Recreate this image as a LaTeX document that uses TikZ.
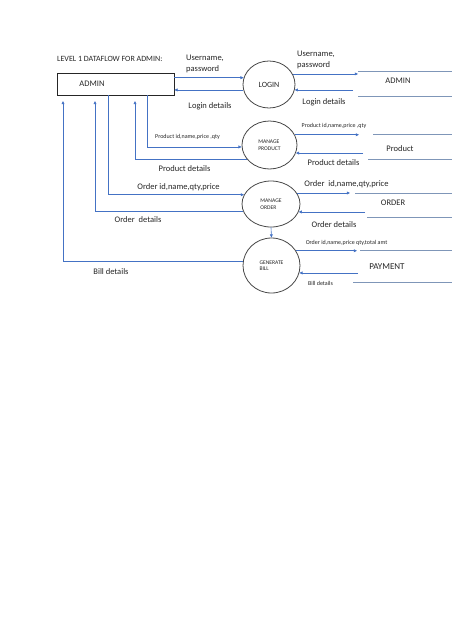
\documentclass[tikz,border=0pt]{standalone}
\usepackage{fontspec}
\setmainfont{Carlito}
\usetikzlibrary{arrows.meta,shapes.geometric}
\definecolor{flowc}{HTML}{4472C4}
\definecolor{storec}{HTML}{7F96B8}
\definecolor{inkc}{HTML}{262626}
\tikzset{
  flow/.style={draw=flowc, line width=0.6pt, -{Triangle[length=3.2pt,width=2.8pt]}},
  proc/.style={ellipse, draw=inkc!85, line width=0.8pt, inner sep=0pt, align=left, text=inkc, font=\fontsize{5.6}{6.6}\selectfont},
  entity/.style={draw=inkc, line width=0.7pt, minimum width=117pt, minimum height=22pt, inner sep=0pt},
  storeline/.style={draw=storec, line width=0.6pt},
  lbl/.style={font=\fontsize{8.5}{11}\selectfont, text=inkc, inner sep=0pt, align=left},
  tiny/.style={font=\fontsize{6}{7}\selectfont, text=inkc, inner sep=0pt},
}

\begin{document}
\begin{tikzpicture}[x=1pt,y=-1pt]
\useasboundingbox (0,0) rectangle (474,632);
\fill[white] (0,0) rectangle (474,632);

% admin entity and processes
\node[lbl, anchor=west, font=\fontsize{8}{10}\selectfont] (title) at (57,59) {LEVEL 1 DATAFLOW FOR ADMIN:};
\node[entity] (admin) at (115.5,84) {};
\node[lbl] (admintxt) at (92,84) {ADMIN};
\node[proc, minimum width=52pt, minimum height=47pt, font=\fontsize{8}{9}\selectfont] (login) at (269,84.5) {LOGIN};
\node[proc, minimum width=55pt, minimum height=48pt] (mprod) at (269.5,145) {MANAGE\\PRODUCT};
\node[proc, minimum width=58pt, minimum height=46pt] (mord) at (271,204) {MANAGE\\ORDER};
\node[proc, minimum width=57pt, minimum height=55pt] (gbill) at (271.5,265.5) {GENERATE\\BILL};

% stores on the right
\draw[storeline] (358,71) -- (452,71) (358,96) -- (452,96);
\draw[storeline] (373,134) -- (452,134) (368,159) -- (452,159);
\draw[storeline] (355,193) -- (452,193) (367,217) -- (452,217);
\draw[storeline] (360,250) -- (452,250) (353,282) -- (452,282);
\node[lbl] (sadmin) at (398,81) {ADMIN};
\node[lbl] (sprod) at (400,149) {Product};
\node[lbl] (sord) at (393,203) {ORDER};
\node[lbl, font=\fontsize{9}{11}\selectfont] (spay) at (387,267) {PAYMENT};

% arrow ends
\coordinate (aout) at (358,0);
\coordinate (ain) at (353,0);
\coordinate (pout) at (359,0);
\coordinate (pin) at (363,0);
\coordinate (oout) at (350,0);
\coordinate (oin) at (365,0);
\coordinate (bout) at (357,0);
\coordinate (bin) at (358,0);
\coordinate (k1) at (63,101);
\coordinate (k2) at (95,101);
\coordinate (k3) at (108,95);
\coordinate (k4) at (135,101);
\coordinate (k5) at (147,95);

% flows
\draw[flow] (admin.east |- login.165) -- (login.165);
\draw[flow] (login.192) -- (admin.east |- login.192);
\draw[flow] (login.24) -- (login.24 -| aout);
\draw[flow] (login.348 -| ain) -- (login.348);
\draw[flow] (k5) |- (mprod.184);
\draw[flow] (mprod.212) -| (k4);
\draw[flow] (mprod.22) -- (mprod.22 -| pout);
\draw[flow] (mprod.343 -| pin) -- (mprod.343);
\draw[flow] (k3) |- (mord.161);
\draw[flow] (mord.194) -| (k2);
\draw[flow] (mord.23) -- (mord.23 -| oout);
\draw[flow] (mord.344 -| oin) -- (mord.344);
\draw[flow] (mord.south) -- (gbill.north);
\draw[flow] (gbill.171) -| (k1);
\draw[flow] (gbill.31) -- (gbill.31 -| bout);
\draw[flow] (gbill.345 -| bin) -- (gbill.345);

% flow labels
\node[lbl, anchor=west] (l1) at (186,63.5) {Username,\\password};
\node[lbl] (l2) at (210,106) {Login details};
\node[lbl, anchor=west] (l3) at (297,60) {Username,\\password};
\node[lbl] (l4) at (324,102) {Login details};
\node[tiny] (l5) at (187.5,137) {Product id,name,price ,qty};
\node[lbl] (l6) at (184.5,169) {Product details};
\node[tiny] (l7) at (334,126) {Product id,name,price ,qty};
\node[lbl] (l8) at (333.5,163) {Product details};
\node[lbl] (l9) at (178.5,187) {Order id,name,qty,price};
\node[lbl] (l10) at (138,220) {Order\ \ details};
\node[lbl] (l11) at (346.5,184) {Order\ \ id,name,qty,price};
\node[lbl] (l12) at (334,225) {Order details};
\node[lbl] (l13) at (111,272) {Bill details};
\node[tiny] (l14) at (346.5,243) {Order id,name,price qty,total amt};
\node[tiny] (l15) at (320.5,283) {Bill details};
\end{tikzpicture}
\end{document}
